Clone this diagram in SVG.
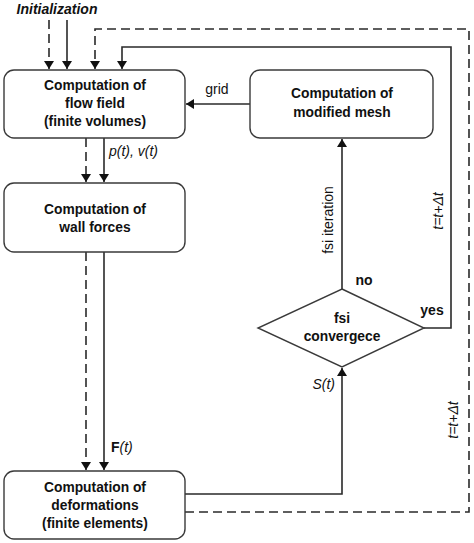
<svg xmlns="http://www.w3.org/2000/svg" width="474" height="543" viewBox="0 0 474 543">
<style>
.box{fill:#fff;stroke:#3a3a3a;stroke-width:1.4}
.ln{fill:none;stroke:#2a2a2a;stroke-width:1.6}
.ds{fill:none;stroke:#2a2a2a;stroke-width:1.6;stroke-dasharray:9 5}
.t{font-family:"Liberation Sans",Arial,sans-serif;font-size:13.8px;font-weight:bold;fill:#111;text-anchor:middle}
.l{font-family:"Liberation Sans",Arial,sans-serif;font-size:14px;fill:#111}
.i{font-style:italic}
</style>
<defs>
<marker id="ah" markerWidth="8" markerHeight="10" refX="8" refY="5" orient="auto" markerUnits="userSpaceOnUse">
<path d="M0,0 L8,5 L0,10 Z" fill="#111"/>
</marker>
</defs>
<rect width="474" height="543" fill="#fff"/>
<g id="connectors">
<line class="ds" x1="49" y1="20" x2="49" y2="69" marker-end="url(#ah)"/>
<line class="ln" x1="67" y1="20" x2="67" y2="69" marker-end="url(#ah)"/>
<polyline class="ds" points="185,512 469,512 469,29 95,29 95,69" marker-end="url(#ah)"/>
<polyline class="ln" points="424,328 451,328 451,47 122,47 122,69" marker-end="url(#ah)"/>
<line class="ln" x1="250" y1="104" x2="186" y2="104" marker-end="url(#ah)"/>
<line class="ds" x1="86" y1="138" x2="86" y2="182" marker-end="url(#ah)"/>
<line class="ln" x1="104" y1="138" x2="104" y2="182" marker-end="url(#ah)"/>
<line class="ds" x1="86" y1="252" x2="86" y2="470" marker-end="url(#ah)"/>
<line class="ln" x1="104" y1="252" x2="104" y2="470" marker-end="url(#ah)"/>
<polyline class="ln" points="185,494 342,494 342,368" marker-end="url(#ah)"/>
<line class="ln" x1="342" y1="289" x2="342" y2="139" marker-end="url(#ah)"/>
<text class="l i" x="57" y="14" text-anchor="middle" font-weight="bold">Initialization</text>
<text class="l" x="217" y="94" text-anchor="middle">grid</text>
<text class="l i" x="109" y="156">p(t), v(t)</text>
<text class="l" x="111" y="452"><tspan font-weight="bold">F</tspan><tspan font-style="italic">(t)</tspan></text>
<text class="l i" x="335" y="389" text-anchor="end">S(t)</text>
<text class="l" x="333" y="220" text-anchor="middle" transform="rotate(-90 333 220)">fsi iteration</text>
<text class="l i" x="443" y="211" text-anchor="middle" transform="rotate(-90 443 211)">t=t+Δt</text>
<text class="l i" x="458" y="420" text-anchor="middle" transform="rotate(-90 458 420)">t=t+Δt</text>
<text class="l" x="364" y="285" text-anchor="middle" font-weight="bold">no</text>
<text class="l" x="432" y="315" text-anchor="middle" font-weight="bold">yes</text>
</g>
<g id="flow">
<rect class="box" x="4" y="70" width="181" height="68" rx="10"/>
<text class="t" x="95" y="90">Computation of</text>
<text class="t" x="95" y="108">flow field</text>
<text class="t" x="95" y="126">(finite volumes)</text>
</g>
<g id="mesh">
<rect class="box" x="250" y="70" width="183" height="68" rx="10"/>
<text class="t" x="342" y="98">Computation of</text>
<text class="t" x="342" y="117">modified mesh</text>
</g>
<g id="forces">
<rect class="box" x="4" y="183" width="181" height="69" rx="10"/>
<text class="t" x="95" y="214">Computation of</text>
<text class="t" x="95" y="232">wall forces</text>
</g>
<g id="deform">
<rect class="box" x="4" y="471" width="181" height="68" rx="10"/>
<text class="t" x="95" y="492">Computation of</text>
<text class="t" x="95" y="510">deformations</text>
<text class="t" x="95" y="528">(finite elements)</text>
</g>
<g id="convergence">
<polygon class="box" points="342,289 424,328 342,367 258,328"/>
<text class="t" x="342" y="323">fsi</text>
<text class="t" x="342" y="341">convergece</text>
</g>
</svg>
